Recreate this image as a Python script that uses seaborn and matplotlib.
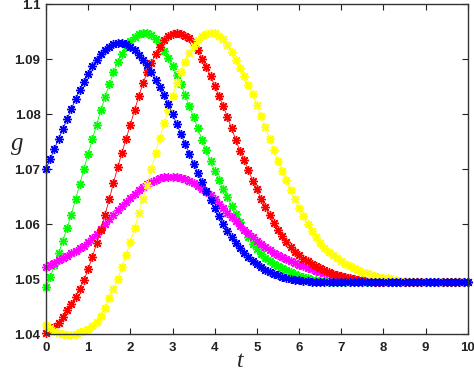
import numpy as np
import matplotlib
matplotlib.use("Agg")
import matplotlib.pyplot as plt
import seaborn as sns

# sample times, step 0.1
t = np.linspace(0, 10, 101)

g_blue = [1.0700, 1.0718, 1.0737, 1.0755, 1.0773, 1.0791, 1.0809, 1.0827, 1.0843, 1.0858,
          1.0873, 1.0887, 1.0899, 1.0909, 1.0917, 1.0923, 1.0927, 1.0930, 1.0930, 1.0928,
          1.0923, 1.0916, 1.0908, 1.0899, 1.0889, 1.0877, 1.0863, 1.0849, 1.0834, 1.0818,
          1.0800, 1.0782, 1.0764, 1.0746, 1.0728, 1.0710, 1.0693, 1.0676, 1.0660, 1.0644,
          1.0629, 1.0614, 1.0601, 1.0588, 1.0577, 1.0566, 1.0556, 1.0547, 1.0540, 1.0533,
          1.0527, 1.0522, 1.0517, 1.0513, 1.0510, 1.0507, 1.0504, 1.0502, 1.0500, 1.0499,
          1.0498, 1.0497, 1.0496, 1.0495, 1.0495, 1.0495, 1.0495, 1.0495, 1.0495, 1.0495,
          1.0495, 1.0495, 1.0495, 1.0495, 1.0495, 1.0495, 1.0495, 1.0495, 1.0495, 1.0495,
          1.0495, 1.0495, 1.0495, 1.0495, 1.0495, 1.0495, 1.0495, 1.0495, 1.0495, 1.0495,
          1.0495, 1.0495, 1.0495, 1.0495, 1.0495, 1.0495, 1.0495, 1.0495, 1.0495, 1.0495,
          1.0495]

g_green = [1.0485, 1.0503, 1.0525, 1.0547, 1.0570, 1.0593, 1.0617, 1.0645, 1.0672, 1.0701,
           1.0727, 1.0754, 1.0781, 1.0807, 1.0831, 1.0854, 1.0876, 1.0894, 1.0909, 1.0922,
           1.0933, 1.0941, 1.0946, 1.0948, 1.0947, 1.0944, 1.0937, 1.0927, 1.0915, 1.0903,
           1.0888, 1.0871, 1.0854, 1.0834, 1.0814, 1.0795, 1.0774, 1.0753, 1.0734, 1.0715,
           1.0697, 1.0680, 1.0664, 1.0650, 1.0633, 1.0618, 1.0603, 1.0589, 1.0576, 1.0564,
           1.0554, 1.0546, 1.0539, 1.0533, 1.0528, 1.0524, 1.0520, 1.0516, 1.0512, 1.0509,
           1.0506, 1.0503, 1.0501, 1.0499, 1.0498, 1.0497, 1.0496, 1.0495, 1.0495, 1.0495,
           1.0495, 1.0495, 1.0495, 1.0495, 1.0495, 1.0495, 1.0495, 1.0495, 1.0495, 1.0495,
           1.0495, 1.0495, 1.0495, 1.0495, 1.0495, 1.0495, 1.0495, 1.0495, 1.0495, 1.0495,
           1.0495, 1.0495, 1.0495, 1.0495, 1.0495, 1.0495, 1.0495, 1.0495, 1.0495, 1.0495,
           1.0495]

g_red = [1.0402, 1.0407, 1.0413, 1.0420, 1.0431, 1.0443, 1.0455, 1.0468, 1.0482, 1.0498,
         1.0518, 1.0540, 1.0565, 1.0590, 1.0617, 1.0645, 1.0675, 1.0703, 1.0730, 1.0755,
         1.0781, 1.0807, 1.0833, 1.0856, 1.0876, 1.0893, 1.0909, 1.0923, 1.0935, 1.0942,
         1.0946, 1.0947, 1.0946, 1.0943, 1.0938, 1.0929, 1.0916, 1.0901, 1.0886, 1.0869,
         1.0852, 1.0833, 1.0815, 1.0795, 1.0774, 1.0753, 1.0733, 1.0716, 1.0698, 1.0679,
         1.0663, 1.0646, 1.0631, 1.0617, 1.0602, 1.0589, 1.0578, 1.0568, 1.0558, 1.0550,
         1.0543, 1.0537, 1.0532, 1.0528, 1.0524, 1.0520, 1.0516, 1.0513, 1.0510, 1.0507,
         1.0505, 1.0503, 1.0502, 1.0500, 1.0499, 1.0498, 1.0497, 1.0496, 1.0495, 1.0495,
         1.0495, 1.0495, 1.0495, 1.0495, 1.0495, 1.0495, 1.0495, 1.0495, 1.0495, 1.0495,
         1.0495, 1.0495, 1.0495, 1.0495, 1.0495, 1.0495, 1.0495, 1.0495, 1.0495, 1.0495,
         1.0495]

g_yellow = [1.0416, 1.0411, 1.0406, 1.0402, 1.0400, 1.0399, 1.0399, 1.0400, 1.0403, 1.0406,
            1.0410, 1.0415, 1.0422, 1.0433, 1.0448, 1.0465, 1.0482, 1.0500, 1.0521, 1.0544,
            1.0567, 1.0592, 1.0620, 1.0646, 1.0671, 1.0700, 1.0730, 1.0757, 1.0783, 1.0808,
            1.0833, 1.0856, 1.0876, 1.0895, 1.0911, 1.0924, 1.0935, 1.0942, 1.0946, 1.0948,
            1.0947, 1.0943, 1.0936, 1.0926, 1.0913, 1.0899, 1.0884, 1.0869, 1.0853, 1.0836,
            1.0817, 1.0797, 1.0776, 1.0755, 1.0735, 1.0715, 1.0697, 1.0680, 1.0662, 1.0646,
            1.0629, 1.0614, 1.0600, 1.0588, 1.0576, 1.0566, 1.0557, 1.0550, 1.0543, 1.0538,
            1.0533, 1.0528, 1.0524, 1.0520, 1.0516, 1.0513, 1.0511, 1.0508, 1.0506, 1.0504,
            1.0502, 1.0501, 1.0499, 1.0498, 1.0497, 1.0496, 1.0495, 1.0495, 1.0495, 1.0495,
            1.0495, 1.0495, 1.0495, 1.0495, 1.0495, 1.0495, 1.0495, 1.0495, 1.0495, 1.0495,
            1.0495]

g_magenta = [1.0522, 1.0526, 1.0530, 1.0534, 1.0538, 1.0542, 1.0547, 1.0551, 1.0556, 1.0561,
             1.0567, 1.0574, 1.0582, 1.0591, 1.0600, 1.0609, 1.0617, 1.0625, 1.0633, 1.0641,
             1.0648, 1.0655, 1.0662, 1.0668, 1.0673, 1.0677, 1.0680, 1.0683, 1.0685, 1.0686,
             1.0686, 1.0686, 1.0684, 1.0682, 1.0679, 1.0675, 1.0670, 1.0664, 1.0658, 1.0652,
             1.0645, 1.0637, 1.0629, 1.0621, 1.0613, 1.0605, 1.0597, 1.0590, 1.0583, 1.0576,
             1.0569, 1.0563, 1.0558, 1.0553, 1.0548, 1.0544, 1.0540, 1.0536, 1.0532, 1.0529,
             1.0526, 1.0523, 1.0520, 1.0518, 1.0515, 1.0513, 1.0511, 1.0509, 1.0507, 1.0505,
             1.0504, 1.0502, 1.0501, 1.0500, 1.0499, 1.0498, 1.0497, 1.0496, 1.0495, 1.0495,
             1.0495, 1.0495, 1.0495, 1.0495, 1.0495, 1.0495, 1.0495, 1.0495, 1.0495, 1.0495,
             1.0495, 1.0495, 1.0495, 1.0495, 1.0495, 1.0495, 1.0495, 1.0495, 1.0495, 1.0495,
             1.0495]

x_ticks = [0, 1, 2, 3, 4, 5, 6, 7, 8, 9, 10]
y_ticks = [1.04, 1.05, 1.06, 1.07, 1.08, 1.09, 1.1]
y_labels = ["1.04", "1.05", "1.06", "1.07", "1.08", "1.09", "1.1"]

# drawing order: bottom to top
series = [
    (g_green, "#00ff00"),
    (g_magenta, "#ff00ff"),
    (g_red, "#ff0000"),
    (g_yellow, "#ffff00"),
    (g_blue, "#0000ff"),
]

sns.set_style("ticks")
plt.rcParams["font.family"] = ["Liberation Sans", "DejaVu Sans"]

fig = plt.figure(figsize=(4.74, 3.71), dpi=100)
ax = fig.add_axes([0.097, 0.0997, 0.890, 0.889])

for vals, col in series:
    sns.lineplot(x=t, y=vals, ax=ax, color=col, linewidth=0.6,
                 marker=(8, 2, 0), markersize=6.5, markeredgecolor=col,
                 markeredgewidth=1.0, clip_on=False)

ax.set_xlim(0, 10)
ax.set_ylim(1.04, 1.1)
ax.set_xticks(x_ticks)
ax.set_xticklabels([str(v) for v in x_ticks])
ax.set_yticks(y_ticks)
ax.set_yticklabels(y_labels)
ax.tick_params(direction="in", top=True, right=True, length=4, width=0.8,
               labelsize=9.5, colors="#222222")
ax.tick_params(axis="x", pad=6)
ax.tick_params(axis="y", pad=4)
for lab in ax.get_xticklabels() + ax.get_yticklabels():
    lab.set_fontweight("bold")
for sp in ax.spines.values():
    sp.set_linewidth(1.0)
    sp.set_color("#333333")

ax.set_xlabel("t", fontsize=17, family="Liberation Serif", style="italic")
ax.set_ylabel("g", fontsize=18, family="Liberation Serif", style="italic",
              rotation=0, va="center")
ax.xaxis.set_label_coords(0.46, -0.05)
ax.yaxis.set_label_coords(-0.069, 0.575)

fig.savefig("out.png", dpi=100)
